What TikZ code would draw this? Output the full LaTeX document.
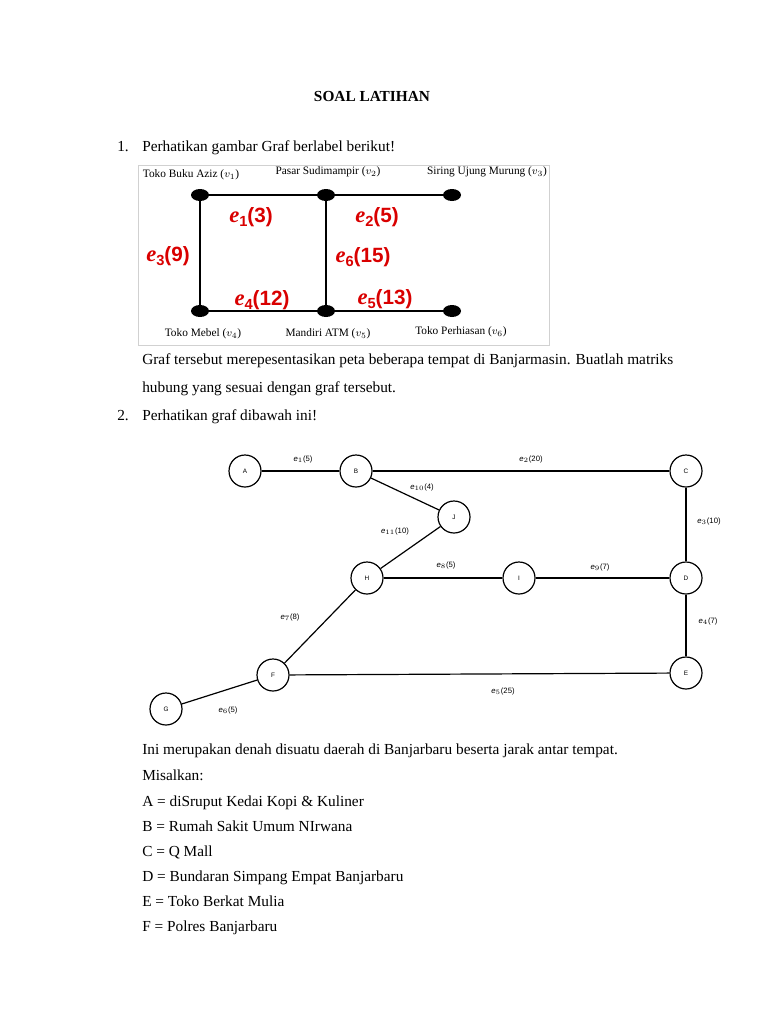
\documentclass[tikz,border=0pt]{standalone}
\usepackage{fontspec}
\usetikzlibrary{shapes.geometric}
\setmainfont{Liberation Serif}
\newfontfamily\lsans{Liberation Sans}
\begin{document}
\begin{tikzpicture}[x=0.75pt,y=-0.75pt,
  body/.style={anchor=base west,inner sep=0pt,font=\fontsize{11.5}{13}\selectfont},
  dot/.style={ellipse,fill=black,minimum width=13.5pt,minimum height=9pt,inner sep=0pt},
  vlab/.style={inner sep=0pt,font=\fontsize{8.5}{10}\selectfont},
  red lab/.style={inner sep=0pt,text=red!85!black,font=\lsans\bfseries\fontsize{15.5}{18}\selectfont},
  edge1/.style={line width=1.6pt},
  vert/.style={circle,draw,line width=0.9pt,minimum size=24pt,inner sep=0pt,font=\lsans\fontsize{4.8}{6}\selectfont},
  edge2/.style={line width=0.9pt},
  elab/.style={inner sep=0pt,font=\lsans\fontsize{5.8}{7}\selectfont}]
\useasboundingbox (0,0) rectangle (768,1024);
\newcommand{\ee}[2]{\textit{e}$_{#1}$(#2)}
\newcommand{\re}[2]{{\fontspec{Liberation Serif}\bfseries\itshape\fontsize{17}{18}\selectfont e}\raisebox{-3.5pt}{\fontsize{11}{11}\selectfont #1}(#2)}
% header
\node[inner sep=0pt,font=\bfseries\fontsize{11.5}{13}\selectfont,anchor=base] (title) at (372,101) {SOAL LATIHAN};
\node[body] (n1) at (117,151) {1.};
\node[body] (t1) at (142,151) {Perhatikan gambar Graf berlabel berikut!};
% graph 1
\draw[black!18,line width=0.6pt] (138,165) rectangle (549,345);
\node[dot] (v1) at (200,195) {};
\node[dot] (v2) at (326,195) {};
\node[dot] (v3) at (452,195) {};
\node[dot] (v4) at (200,311) {};
\node[dot] (v5) at (326,311) {};
\node[dot] (v6) at (452,311) {};
\draw[edge1] (v1) -- (v2) -- (v3);
\draw[edge1] (v4) -- (v5) -- (v6);
\draw[edge1] (v1) -- (v4);
\draw[edge1] (v2) -- (v5);
\node[vlab] (l1) at (191,175) {Toko Buku Aziz ($v_1$)};
\node[vlab] (l2) at (328,172) {Pasar Sudimampir ($v_2$)};
\node[vlab] (l3) at (487,172) {Siring Ujung Murung ($v_3$)};
\node[vlab] (l4) at (203,334) {Toko Mebel ($v_4$)};
\node[vlab] (l5) at (328,334) {Mandiri ATM ($v_5$)};
\node[vlab] (l6) at (461,332) {Toko Perhiasan ($v_6$)};
\node[red lab] (r1) at (251,217) {\re{1}{3}};
\node[red lab] (r2) at (377,217) {\re{2}{5}};
\node[red lab] (r3) at (168,256) {\re{3}{9}};
\node[red lab] (r6) at (363,257) {\re{6}{15}};
\node[red lab] (r4) at (262,300) {\re{4}{12}};
\node[red lab] (r5) at (385,299) {\re{5}{13}};
% text
\node[body] (t2) at (142,364) {Graf tersebut merepesentasikan peta beberapa tempat di Banjarmasin. Buatlah matriks};
\node[body] (t3) at (142,392) {hubung yang sesuai dengan graf tersebut.};
\node[body] (n2) at (117,420) {2.};
\node[body] (t4) at (142,420) {Perhatikan graf dibawah ini!};
% graph 2
\node[vert] (A) at (245,471) {A};
\node[vert] (B) at (356,471) {B};
\node[vert] (C) at (686,471) {C};
\node[vert] (J) at (454,517) {J};
\node[vert] (H) at (367,578) {H};
\node[vert] (I) at (519,578) {I};
\node[vert] (D) at (686,578) {D};
\node[vert] (F) at (273,675) {F};
\node[vert] (E) at (686,673) {E};
\node[vert] (G) at (166,709) {G};
\draw[edge2] (A) -- (B);
\draw[edge2] (B) -- (C);
\draw[edge2] (C) -- (D);
\draw[edge2] (D) -- (E);
\draw[edge2] (E) -- (F);
\draw[edge2] (F) -- (G);
\draw[edge2] (F) -- (H);
\draw[edge2] (H) -- (I);
\draw[edge2] (I) -- (D);
\draw[edge2] (B) -- (J);
\draw[edge2] (J) -- (H);
\node[elab] (k1) at (303,459) {\ee{1}{5}};
\node[elab] (k2) at (531,459) {\ee{2}{20}};
\node[elab] (k10) at (422,487) {\ee{10}{4}};
\node[elab] (k11) at (395,531) {\ee{11}{10}};
\node[elab] (k8) at (446,565) {\ee{8}{5}};
\node[elab] (k9) at (600,567) {\ee{9}{7}};
\node[elab] (k3) at (709,521) {\ee{3}{10}};
\node[elab] (k4) at (708,621) {\ee{4}{7}};
\node[elab] (k5) at (503,691) {\ee{5}{25}};
\node[elab] (k7) at (290,617) {\ee{7}{8}};
\node[elab] (k6) at (228,710) {\ee{6}{5}};
% text
\node[body] (t5) at (142,754) {Ini merupakan denah disuatu daerah di Banjarbaru beserta jarak antar tempat.};
\node[body] (t6) at (142,780) {Misalkan:};
\node[body] (t7) at (142,806) {A = diSruput Kedai Kopi \& Kuliner};
\node[body] (t8) at (142,831) {B = Rumah Sakit Umum NIrwana};
\node[body] (t9) at (142,856) {C = Q Mall};
\node[body] (t10) at (142,881) {D = Bundaran Simpang Empat Banjarbaru};
\node[body] (t11) at (142,906) {E = Toko Berkat Mulia};
\node[body] (t12) at (142,931) {F = Polres Banjarbaru};
\end{tikzpicture}
\end{document}
